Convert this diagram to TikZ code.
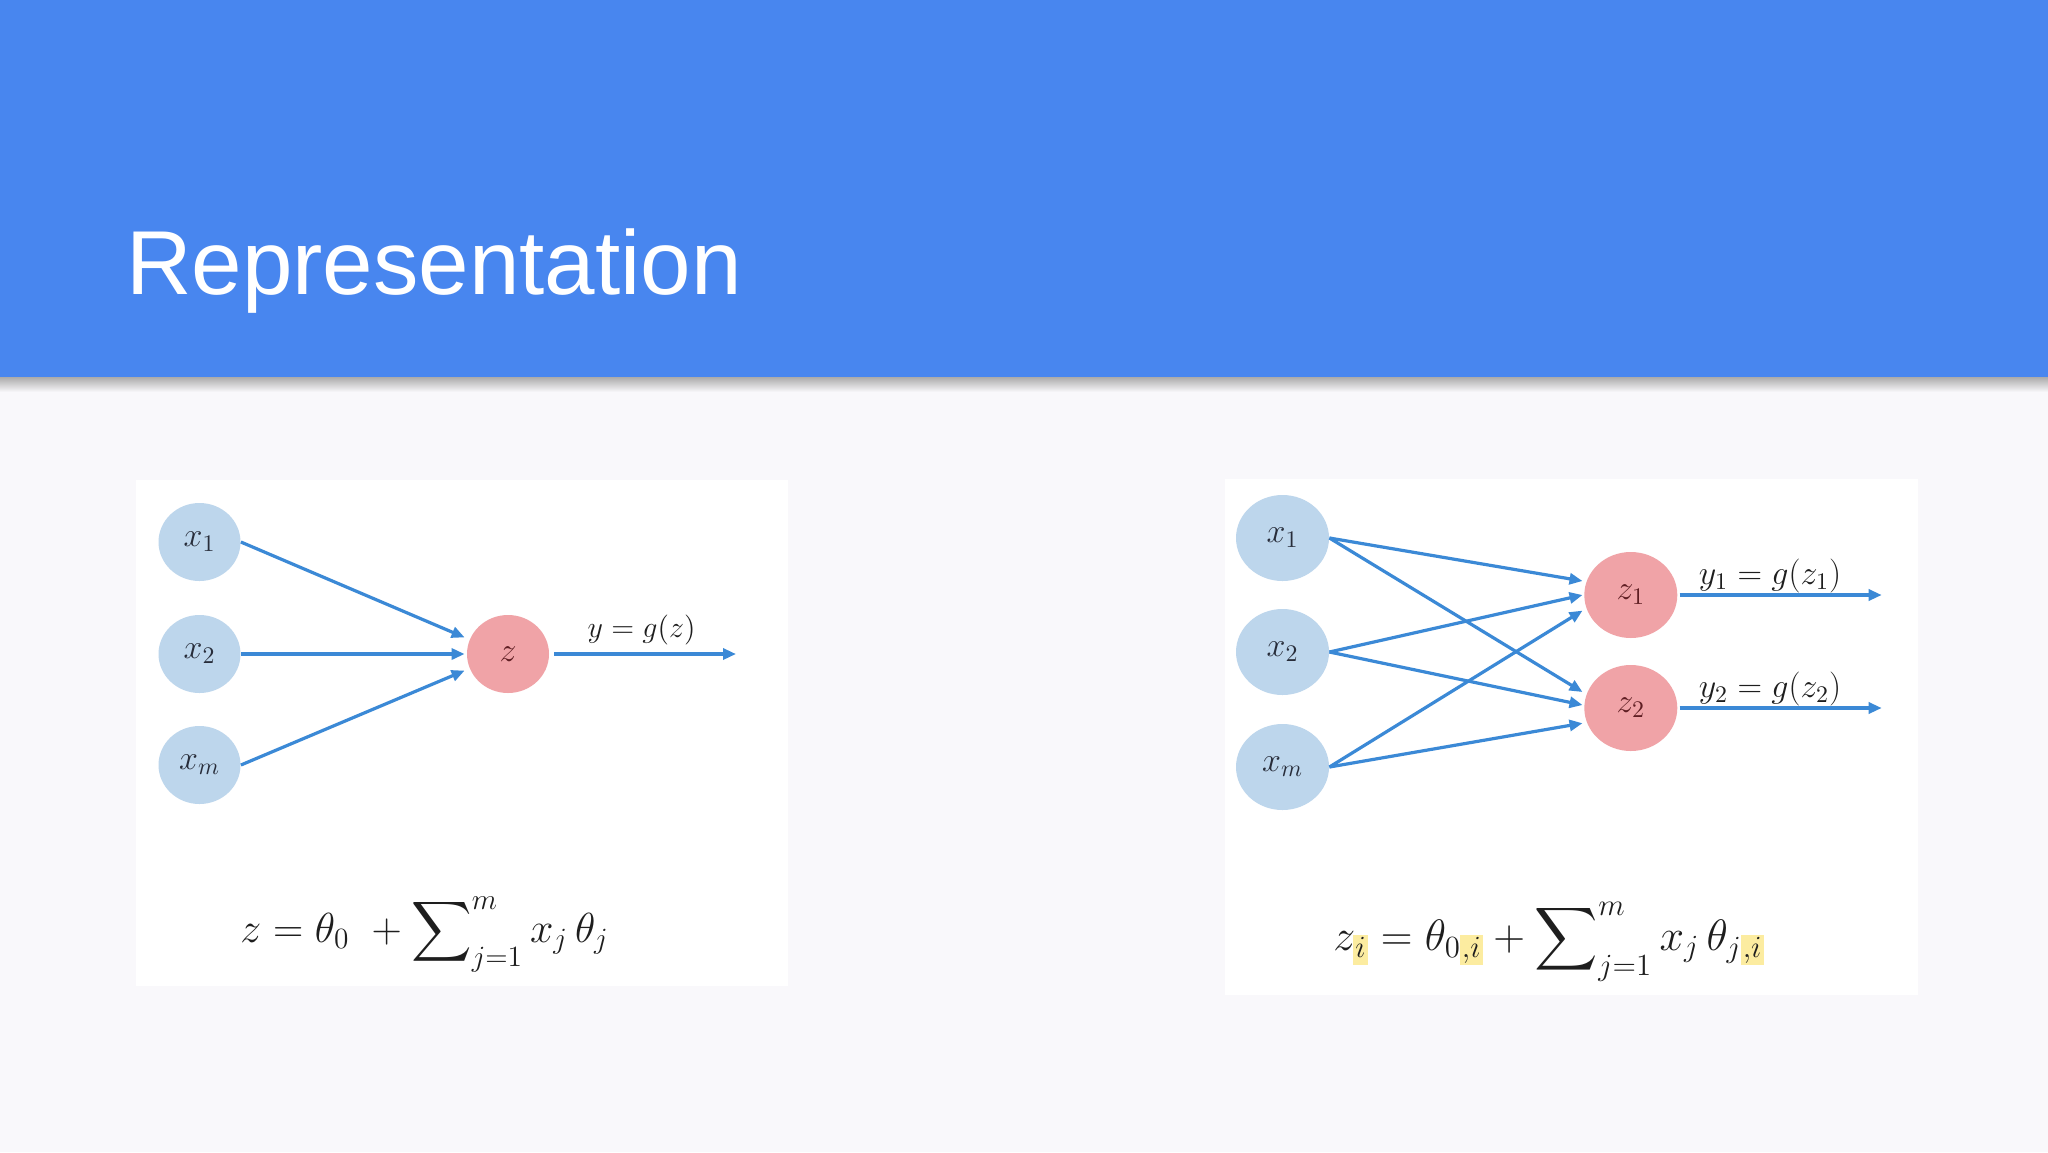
\RequirePackage{fix-cm}
\documentclass[tikz,border=0pt]{standalone}
\usepackage{exscale}
\DeclareFontShape{OMX}{cmex}{m}{n}{<-> cmex10}{}
\usepackage{fontspec}
\newfontfamily\titlefont{Liberation Sans}
\usetikzlibrary{arrows.meta,shapes.geometric,calc}
\definecolor{hdr}{RGB}{72,134,239}
\definecolor{bgc}{RGB}{249,248,251}
\definecolor{inblue}{RGB}{189,214,236}
\definecolor{zred}{RGB}{240,163,167}
\definecolor{arrc}{RGB}{59,137,214}
\definecolor{hly}{RGB}{252,236,160}
\definecolor{xtext}{RGB}{40,45,58}
\definecolor{ztext}{RGB}{95,30,35}
\definecolor{ftext}{RGB}{30,30,30}
\newcommand\hlt[1]{{\setlength{\fboxsep}{1pt}\colorbox{hly}{$\scriptstyle #1\vphantom{,i}$}}}
\begin{document}
\begin{tikzpicture}[x=0.5pt,y=-0.5pt,
  inl/.style={ellipse,fill=inblue,minimum width=41pt,minimum height=39pt,inner sep=0pt,text=xtext,font=\fontsize{17}{20}\selectfont},
  zl/.style={ellipse,fill=zred,minimum width=41pt,minimum height=39pt,inner sep=0pt,text=ztext,font=\fontsize{17}{20}\selectfont},
  inr/.style={ellipse,fill=inblue,minimum width=46.5pt,minimum height=43pt,inner sep=0pt,text=xtext,font=\fontsize{17}{20}\selectfont},
  zr/.style={ellipse,fill=zred,minimum width=46.5pt,minimum height=43pt,inner sep=0pt,text=ztext,font=\fontsize{17}{20}\selectfont},
  arr/.style={draw=arrc,line width=1.6pt,-{Triangle[length=6.5pt,width=5.5pt]}},
  outlab/.style={anchor=base,inner sep=0pt,text=ftext},
  formula/.style={anchor=base west,inner sep=0pt,text=ftext,font=\fontsize{21}{25}\selectfont}]
\useasboundingbox (0,0) rectangle (2048,1152);
\fill[bgc] (0,0) rectangle (2048,1152);
\shade[top color=black!35,bottom color=bgc] (0,376) rectangle (2048,392);
\fill[hdr] (0,0) rectangle (2048,377);
\node[anchor=base west,inner sep=0pt,text=white,font=\titlefont\fontsize{45.4}{50}\selectfont] (title) at (125.6,294) {Representation};
% figure panels
\fill[white] (136,480) rectangle (788,986);
\fill[white] (1225,479) rectangle (1918,995);
% left network
\node[inl] (lx1) at (199.5,542) {$x_1$};
\node[inl] (lx2) at (199.5,654) {$x_2$};
\node[inl] (lxm) at (199.5,765) {$x_m$};
\node[zl] (lz) at (508,654) {$z$};
\coordinate (lyend) at (736,654);
\draw[arr] (lx1.east) -- ([shift={(-1pt,8.3pt)}]lz.west);
\draw[arr] (lx2.east) -- ([xshift=-1pt]lz.west);
\draw[arr] (lxm.east) -- ([shift={(-1pt,-8.3pt)}]lz.west);
\draw[arr,shorten <=2.5pt] (lz.east) -- (lyend);
\node[outlab,font=\fontsize{15}{18}\selectfont] (lylab) at (641.5,637) {$y = g(z)$};
\node[formula] (lform) at (240,942) {$\displaystyle z = \theta_0\ + \sum\nolimits_{j=1}^{m} x_j\,\theta_j$};
% right network
\node[inr] (rx1) at (1282.5,538) {$x_1$};
\node[inr] (rx2) at (1282.5,652) {$x_2$};
\node[inr] (rxm) at (1282.5,767) {$x_m$};
\node[zr] (rz1) at (1630.8,595) {$z_1$};
\node[zr] (rz2) at (1630.8,708) {$z_2$};
\coordinate (ry1end) at (1881.7,595);
\coordinate (ry2end) at (1881.7,708);
\draw[arr] (rx1.east) -- ([shift={(-0.7pt,7pt)}]rz1.west);
\draw[arr] (rx2.east) -- ([xshift=-0.7pt]rz1.west);
\draw[arr] (rxm.east) -- ([shift={(-0.7pt,-7.8pt)}]rz1.west);
\draw[arr] (rx1.east) -- ([shift={(-0.7pt,8pt)}]rz2.west);
\draw[arr] (rx2.east) -- ([shift={(-0.7pt,1.5pt)}]rz2.west);
\draw[arr] (rxm.east) -- ([shift={(-0.7pt,-7.6pt)}]rz2.west);
\draw[arr,shorten <=1pt] (rz1.east) -- (ry1end);
\draw[arr,shorten <=1pt] (rz2.east) -- (ry2end);
\node[outlab,font=\fontsize{17}{20}\selectfont] (ry1lab) at (1770,584) {$y_1 = g(z_1)$};
\node[outlab,font=\fontsize{17}{20}\selectfont] (ry2lab) at (1770,697) {$y_2 = g(z_2)$};
\node[formula,font=\fontsize{22}{26}\selectfont] (rform) at (1333,950) {$\displaystyle z_{\hlt{i}} = \theta_{0\hlt{,i}} + \sum\nolimits_{j=1}^{m} x_j\,\theta_{j\hlt{,i}}$};
\end{tikzpicture}
\end{document}
